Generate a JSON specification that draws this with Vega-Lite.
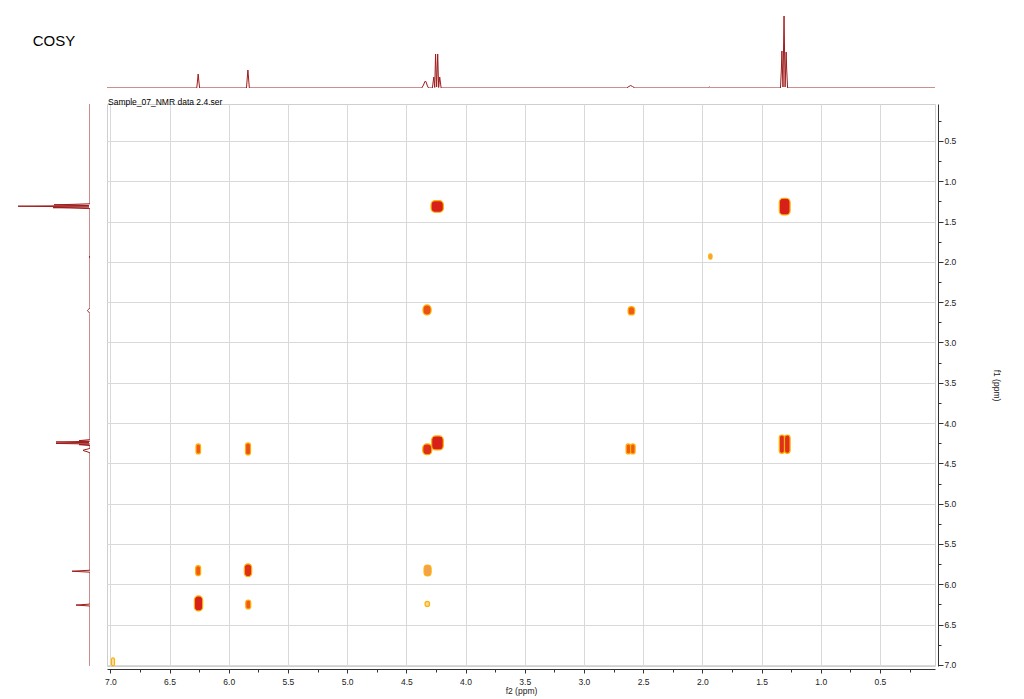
{
 "$schema": "https://vega.github.io/schema/vega-lite/v6.json",
 "background": "white",
 "padding": {"left": 10, "top": 8, "right": 0, "bottom": 0},
 "bounds": "flush",
 "columns": 2,
 "align": "each",
 "spacing": {"row": 16, "column": 17},
 "config": {"view": {"stroke": null}, "font": "Liberation Sans"},
 "datasets": {
  "spectrum": [
   {"ppm": 7.028, "i": 0}, {"ppm": 6.27, "i": 0}, {"ppm": 6.262, "i": 9}, {"ppm": 6.258, "i": 14}, {"ppm": 6.254, "i": 9}, {"ppm": 6.246, "i": 0},
   {"ppm": 5.85, "i": 0}, {"ppm": 5.842, "i": 12}, {"ppm": 5.838, "i": 18}, {"ppm": 5.834, "i": 12}, {"ppm": 5.826, "i": 0},
   {"ppm": 4.37, "i": 0}, {"ppm": 4.355, "i": 3}, {"ppm": 4.345, "i": 6}, {"ppm": 4.338, "i": 7}, {"ppm": 4.33, "i": 5}, {"ppm": 4.322, "i": 2}, {"ppm": 4.312, "i": 0},
   {"ppm": 4.28, "i": 0}, {"ppm": 4.268, "i": 11}, {"ppm": 4.26, "i": 0.5}, {"ppm": 4.253, "i": 34}, {"ppm": 4.244, "i": 1}, {"ppm": 4.235, "i": 34}, {"ppm": 4.227, "i": 0.5}, {"ppm": 4.218, "i": 11}, {"ppm": 4.206, "i": 0},
   {"ppm": 2.64, "i": 0}, {"ppm": 2.62, "i": 1.5}, {"ppm": 2.605, "i": 2.5}, {"ppm": 2.59, "i": 1.5}, {"ppm": 2.57, "i": 0},
   {"ppm": 1.95, "i": 0}, {"ppm": 1.94, "i": 1}, {"ppm": 1.93, "i": 0},
   {"ppm": 1.34, "i": 0}, {"ppm": 1.332, "i": 20}, {"ppm": 1.328, "i": 37}, {"ppm": 1.324, "i": 20}, {"ppm": 1.319, "i": 1}, {"ppm": 1.314, "i": 40}, {"ppm": 1.31, "i": 72}, {"ppm": 1.306, "i": 40}, {"ppm": 1.301, "i": 1}, {"ppm": 1.296, "i": 20}, {"ppm": 1.292, "i": 36}, {"ppm": 1.288, "i": 20}, {"ppm": 1.28, "i": 0},
   {"ppm": 0.035, "i": 0}
  ],
  "peaks": [
   {"f2a": 4.291, "f2b": 4.187, "f1a": 1.241, "f1b": 1.385, "level": 1},
   {"f2a": 1.35, "f2b": 1.259, "f1a": 1.211, "f1b": 1.418, "level": 1},
   {"f2a": 1.946, "f2b": 1.918, "f1a": 1.902, "f1b": 1.968, "level": 0.3},
   {"f2a": 4.359, "f2b": 4.291, "f1a": 2.535, "f1b": 2.659, "level": 0.6},
   {"f2a": 2.627, "f2b": 2.571, "f1a": 2.556, "f1b": 2.659, "level": 0.5},
   {"f2a": 6.276, "f2b": 6.238, "f1a": 4.259, "f1b": 4.383, "level": 0.5},
   {"f2a": 5.858, "f2b": 5.816, "f1a": 4.247, "f1b": 4.396, "level": 0.6},
   {"f2a": 4.361, "f2b": 4.285, "f1a": 4.259, "f1b": 4.392, "level": 0.9},
   {"f2a": 4.286, "f2b": 4.188, "f1a": 4.16, "f1b": 4.334, "level": 1},
   {"f2a": 2.644, "f2b": 2.606, "f1a": 4.259, "f1b": 4.383, "level": 0.5},
   {"f2a": 2.606, "f2b": 2.568, "f1a": 4.259, "f1b": 4.383, "level": 0.5},
   {"f2a": 1.35, "f2b": 1.306, "f1a": 4.148, "f1b": 4.375, "level": 0.9},
   {"f2a": 1.306, "f2b": 1.259, "f1a": 4.148, "f1b": 4.375, "level": 0.9},
   {"f2a": 6.279, "f2b": 6.237, "f1a": 5.769, "f1b": 5.893, "level": 0.5},
   {"f2a": 5.868, "f2b": 5.806, "f1a": 5.748, "f1b": 5.906, "level": 0.9},
   {"f2a": 4.35, "f2b": 4.291, "f1a": 5.761, "f1b": 5.897, "level": 0.3},
   {"f2a": 6.29, "f2b": 6.22, "f1a": 6.145, "f1b": 6.331, "level": 1},
   {"f2a": 5.856, "f2b": 5.814, "f1a": 6.195, "f1b": 6.307, "level": 0.5},
   {"f2a": 4.342, "f2b": 4.304, "f1a": 6.213, "f1b": 6.275, "level": 0.1},
   {"f2a": 6.99, "f2b": 6.965, "f1a": 6.914, "f1b": 7.01, "level": 0.05}
  ]
 },
 "concat": [
  {
   "width": 80, "height": 80,
   "data": {"values": []},
   "mark": "point",
   "title": {"text": "COSY", "orient": "top", "frame": "group", "anchor": "middle", "baseline": "top", "offset": -41, "dx": 4, "fontSize": 15, "fontWeight": "normal", "font": "Liberation Sans", "color": "#000000"}
  },
  {
   "width": 828, "height": 80,
   "data": {"name": "spectrum"},
   "mark": {"type": "line", "color": "#9e1c1c", "strokeWidth": 1, "clip": true},
   "encoding": {
    "x": {"field": "ppm", "type": "quantitative", "scale": {"domain": [0.035, 7.028], "reverse": true, "nice": false, "zero": false}, "axis": null},
    "y": {"field": "i", "type": "quantitative", "scale": {"domain": [0, 80], "nice": false}, "axis": null}
   }
  },
  {
   "width": 80, "height": 562,
   "data": {"name": "spectrum"},
   "mark": {"type": "line", "color": "#9e1c1c", "strokeWidth": 1, "clip": true},
   "encoding": {
    "y": {"field": "ppm", "type": "quantitative", "scale": {"domain": [7.014, 0.042], "nice": false, "zero": false}, "axis": null},
    "x": {"field": "i", "type": "quantitative", "scale": {"domain": [0, 80], "reverse": true, "nice": false}, "axis": null},
    "order": {"field": "ppm", "type": "quantitative"}
   }
  },
  {
   "width": 828, "height": 562,
   "view": {"stroke": "#cfcfcf", "strokeWidth": 1},
   "title": {"text": "Sample_07_NMR data 2.4.ser", "orient": "top", "frame": "group", "anchor": "start", "baseline": "top", "offset": -2, "dx": 1, "fontSize": 8.5, "fontWeight": "normal", "font": "Liberation Sans", "color": "#000000"},
   "data": {"name": "peaks"},
   "mark": {"type": "rect", "cornerRadius": 4, "stroke": "#ffb000", "strokeWidth": 1.2},
   "encoding": {
    "x": {"field": "f2a", "type": "quantitative", "title": "f2 (ppm)",
     "scale": {"domain": [0.035, 7.028], "reverse": true, "nice": false, "zero": false},
     "axis": {"orient": "bottom", "offset": 3,
      "values": [7.0, 6.75, 6.5, 6.25, 6.0, 5.75, 5.5, 5.25, 5.0, 4.75, 4.5, 4.25, 4.0, 3.75, 3.5, 3.25, 3.0, 2.75, 2.5, 2.25, 2.0, 1.75, 1.5, 1.25, 1.0, 0.75, 0.5, 0.25],
      "labelExpr": "datum.value % 0.5 === 0 ? format(datum.value, '.1f') : ''",
      "grid": true, "gridColor": "#d9d9d9",
      "gridOpacity": {"condition": {"test": "datum.value % 0.5 !== 0", "value": 0}, "value": 1},
      "tickSize": {"condition": {"test": "datum.value % 0.5 !== 0", "value": 3}, "value": 4},
      "domainColor": "#333333", "tickColor": "#333333",
      "labelFlush": false, "labelOverlap": false, "labelFontSize": 8.5, "labelColor": "#222222", "labelPadding": 4,
      "titleFontSize": 8.5, "titleFontWeight": "normal", "titleColor": "#222222", "titlePadding": 1}},
    "x2": {"field": "f2b"},
    "y": {"field": "f1a", "type": "quantitative", "title": "f1 (ppm)",
     "scale": {"domain": [7.014, 0.042], "nice": false, "zero": false},
     "axis": {"orient": "right", "offset": 3,
      "values": [0.25, 0.5, 0.75, 1.0, 1.25, 1.5, 1.75, 2.0, 2.25, 2.5, 2.75, 3.0, 3.25, 3.5, 3.75, 4.0, 4.25, 4.5, 4.75, 5.0, 5.25, 5.5, 5.75, 6.0, 6.25, 6.5, 6.75, 7.0],
      "labelExpr": "datum.value % 0.5 === 0 ? format(datum.value, '.1f') : ''",
      "grid": true, "gridColor": "#d9d9d9",
      "gridOpacity": {"condition": {"test": "datum.value % 0.5 !== 0", "value": 0}, "value": 1},
      "tickSize": {"condition": {"test": "datum.value % 0.5 !== 0", "value": 3}, "value": 5},
      "domainColor": "#333333", "tickColor": "#333333",
      "labelFlush": false, "labelOverlap": false, "labelFontSize": 8.5, "labelColor": "#222222", "labelPadding": 1,
      "titleFontSize": 8.5, "titleFontWeight": "normal", "titleColor": "#222222", "titlePadding": 36}},
    "y2": {"field": "f1b"},
    "color": {"field": "level", "type": "quantitative", "legend": null,
     "scale": {"domain": [0, 0.5, 1], "range": ["#fff1c8", "#f05a14", "#d8201a"]}}
   }
  }
 ]
}
